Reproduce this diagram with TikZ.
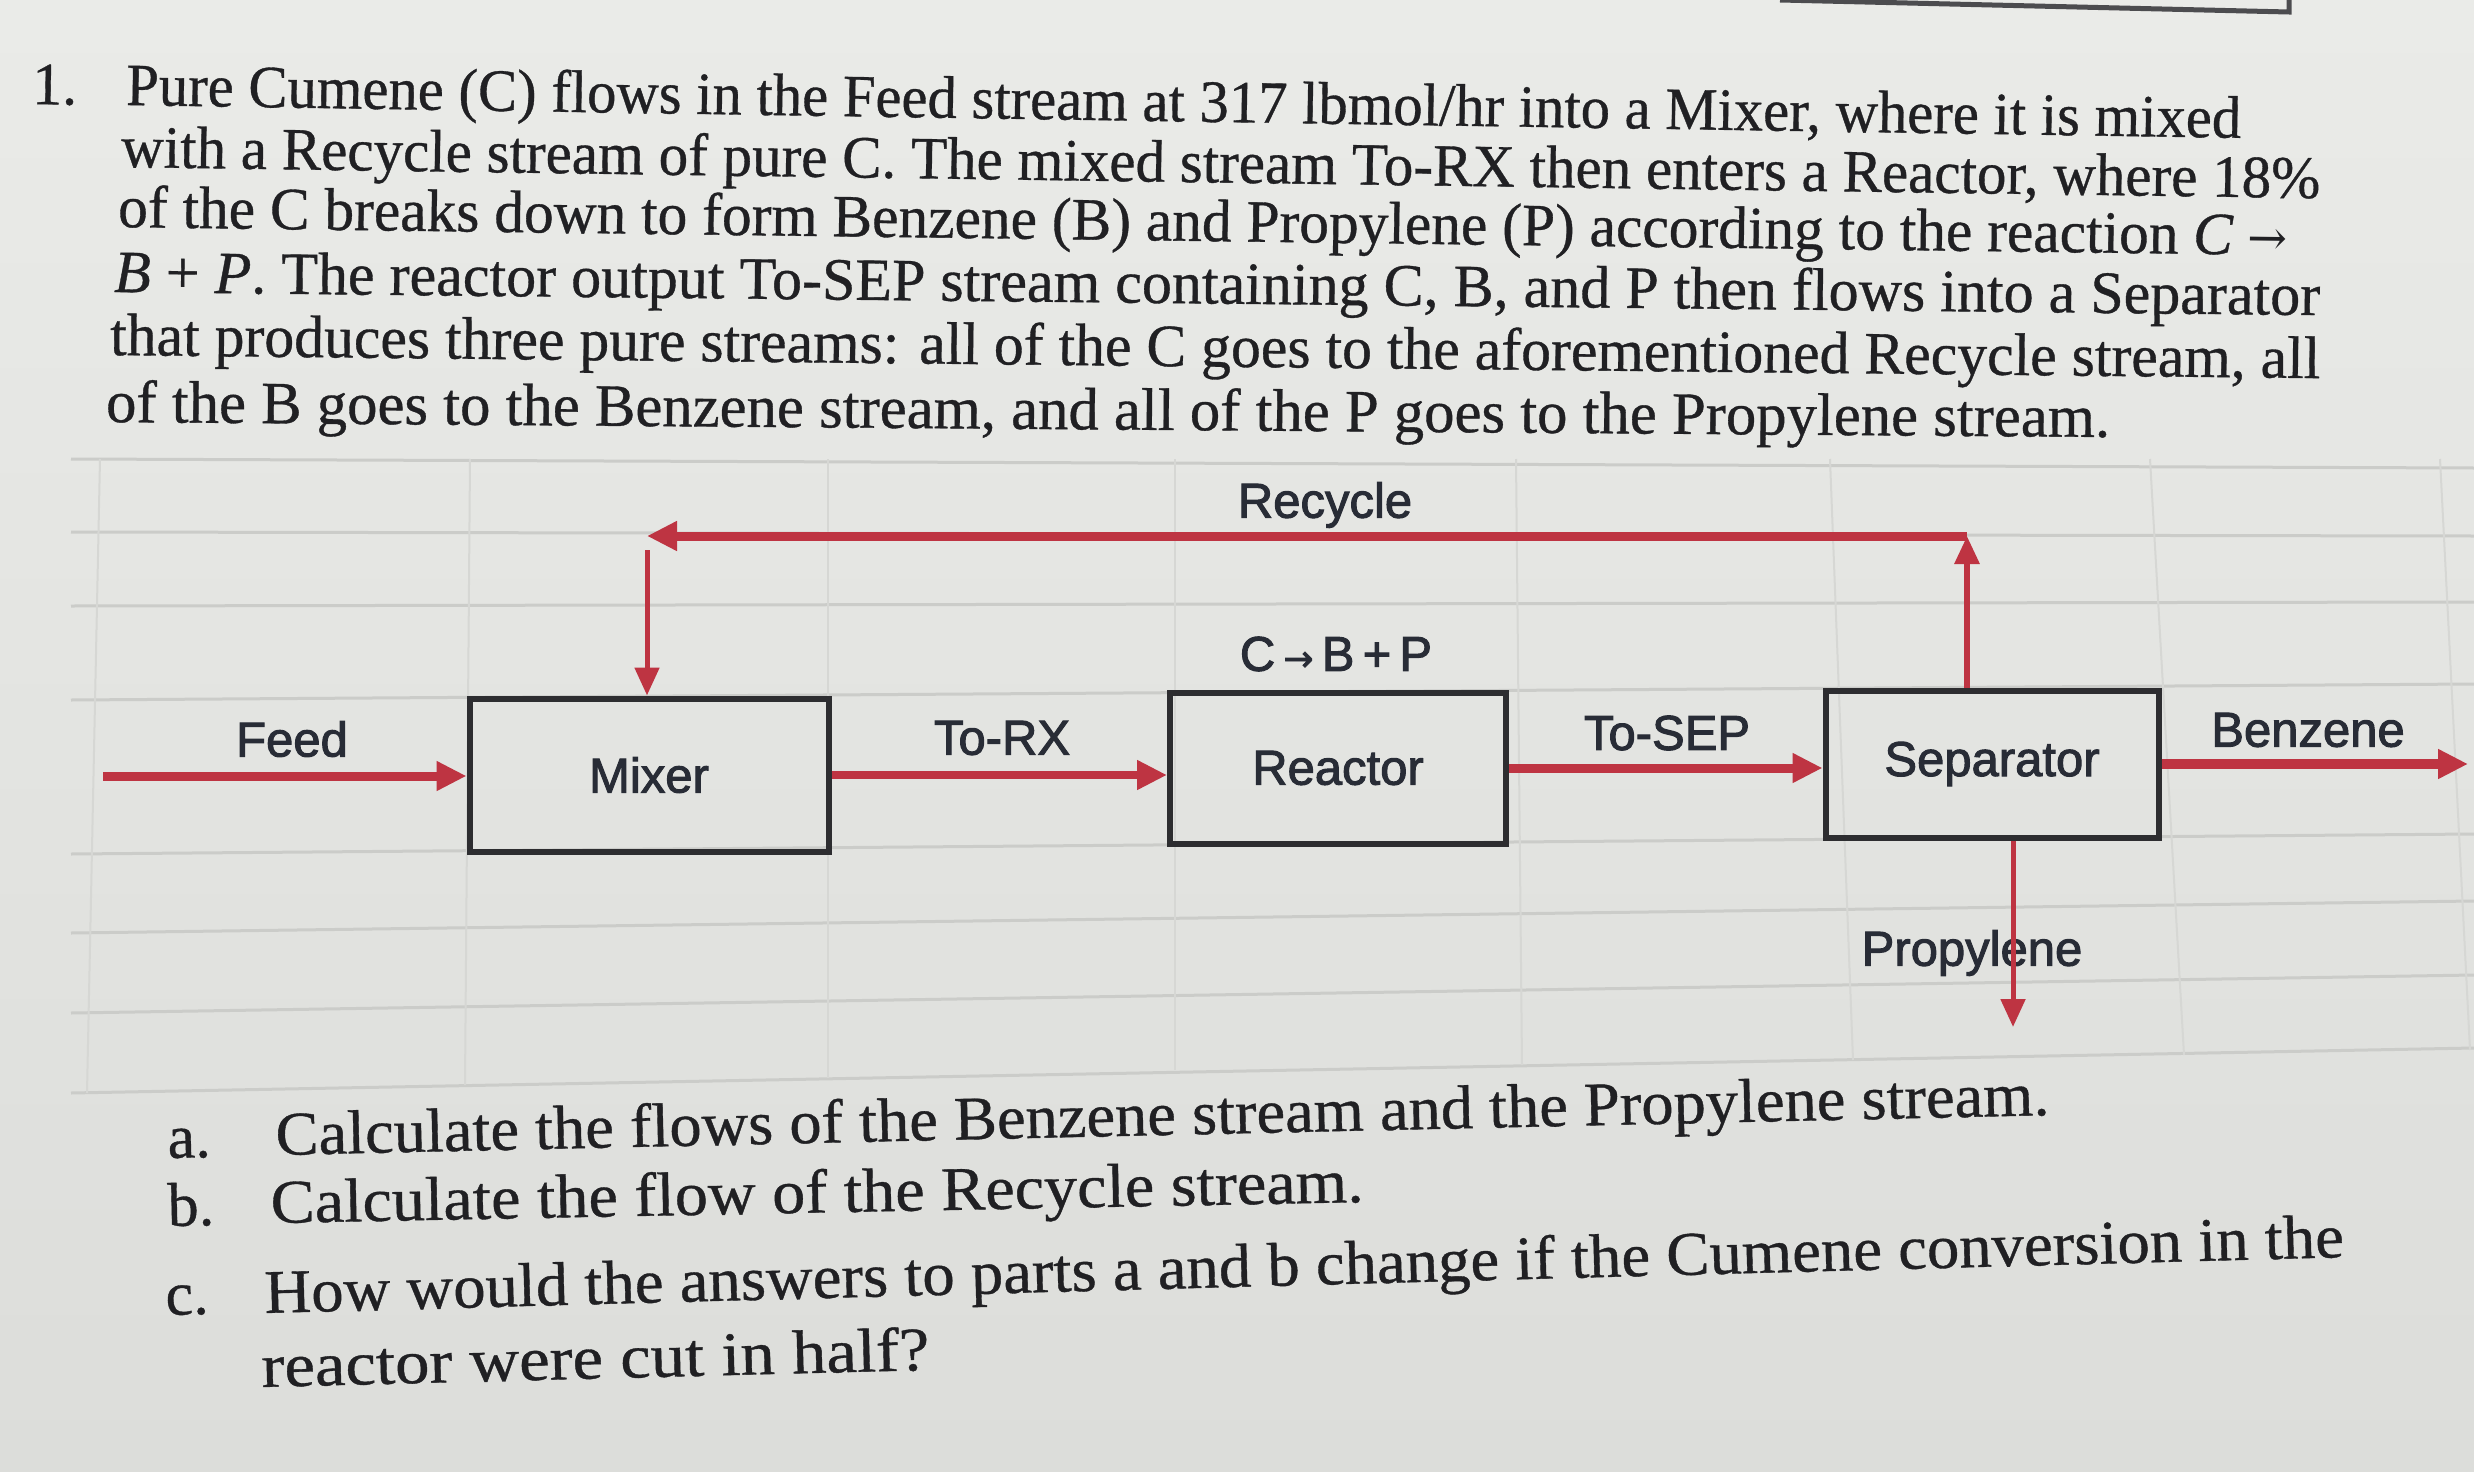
\documentclass[tikz,border=0pt]{standalone}
\usepackage{fontspec}
\setmainfont{Liberation Serif}[FakeBold=0.6]
\newfontfamily\diagfont{Liberation Sans}[FakeBold=2]
\newfontfamily\arrowserif{DejaVu Serif}
\newfontfamily\arrowsans{DejaVu Sans}[FakeBold=2]
\usetikzlibrary{arrows.meta}
\definecolor{papertop}{RGB}{234,235,232}
\definecolor{paperbot}{RGB}{220,221,218}
\definecolor{redc}{RGB}{190,52,66}
\definecolor{boxc}{RGB}{45,45,48}
\definecolor{inkc}{RGB}{32,32,35}
\definecolor{labc}{RGB}{40,44,54}
\definecolor{gridc}{RGB}{203,204,201}
\definecolor{gridv}{RGB}{214,215,212}
\newsavebox\lnbox
\newcommand\fitto[2]{\sbox\lnbox{#2}\resizebox{#1}{\ht\lnbox}{\usebox\lnbox}}
\tikzset{
  para/.style={anchor=base west, inner sep=0pt, outer sep=0pt, text=inkc, font=\fontsize{60}{66}\selectfont},
  qpara/.style={para, font=\fontsize{62}{68}\selectfont},
  lbl/.style={inner sep=0pt, text=labc, font=\diagfont\fontsize{49}{52}\selectfont},
  blk/.style={draw=boxc, line width=6pt, inner sep=0pt, text=labc, font=\diagfont\fontsize{49}{52}\selectfont},
  flow/.style={draw=redc, line width=9pt, -{Triangle[length=30pt,width=28pt]}},
  thinflow/.style={draw=redc, line width=5pt, -{Triangle[length=28pt,width=24pt]}},
  gridh/.style={draw=gridc, line width=3pt},
  gridvl/.style={draw=gridv, line width=2pt},
}
\begin{document}
\begin{tikzpicture}[x=1pt,y=-1pt]
\useasboundingbox (0,0) rectangle (2474,1472);
\shade[top color=papertop, bottom color=paperbot] (0,0) rectangle (2474,1472);

% partial box edge at the top
\draw[draw=boxc!85, line width=5pt] (1780,0) -- (2289,12) -- (2289,0);

% faint grid of the pasted diagram
\draw[gridh] (71,459) -- (2474,468);
\draw[gridh] (71,532) -- (2474,536);
\draw[gridh] (71,606) -- (2474,602);
\draw[gridh] (71,700) -- (2474,684);
\draw[gridh] (71,854) -- (2474,834);
\draw[gridh] (71,933) -- (2474,901);
\draw[gridh] (71,1013) -- (2474,975);
\draw[gridh] (71,1093) -- (2474,1048);
\draw[gridvl] (100,459) -- (87,1093);
\draw[gridvl] (470,459) -- (465,1085);
\draw[gridvl] (828,459) -- (828,1078);
\draw[gridvl] (1175,459) -- (1175,1070);
\draw[gridvl] (1516,459) -- (1522,1065);
\draw[gridvl] (1830,459) -- (1853,1060);
\draw[gridvl] (2150,459) -- (2184,1055);
\draw[gridvl] (2440,459) -- (2470,1050);

% problem statement
\node[para, rotate=-0.89] (n1) at (32,104) {1.};
\node[para, rotate=-0.89] (l1) at (126,105) {\fitto{2115pt}{Pure Cumene (C) flows in the Feed stream at 317 lbmol/hr into a Mixer, where it is mixed}};
\node[para, rotate=-0.81] (l2) at (121,167) {\fitto{2199pt}{with a Recycle stream of pure C. The mixed stream To-RX then enters a Reactor, where 18\%}};
\node[para, rotate=-0.74] (l3) at (118,227) {\fitto{2170pt}{of the C breaks down to form Benzene (B) and Propylene (P) according to the reaction \textit{C} {\arrowserif\fontsize{48}{50}\selectfont →}}};
\node[para, rotate=-0.60] (l4) at (114,292) {\fitto{2206pt}{\textit{B} + \textit{P}. The reactor output To-SEP stream containing C, B, and P then flows into a Separator}};
\node[para, rotate=-0.60] (l5) at (110,355) {\fitto{2210pt}{that produces three pure streams: all of the C goes to the aforementioned Recycle stream, all}};
\node[para, rotate=-0.43] (l6) at (106,422) {\fitto{2004pt}{of the B goes to the Benzene stream, and all of the P goes to the Propylene stream.}};

% flow diagram
\node[blk, minimum width=359pt, minimum height=153pt] (mixer) at (649,775) {Mixer};
\node[blk, minimum width=336pt, minimum height=151pt] (reactor) at (1338,768) {Reactor};
\node[blk, minimum width=333pt, minimum height=147pt] (sep) at (1992,764) {Separator};

\node[lbl] (recyclelbl) at (1325,505) {Recycle};
\node[lbl] (rxnlbl) at (1336,654) {C\,{\arrowsans\fontsize{36}{40}\selectfont →}\,B\,+\,P};
\node[lbl] (feedlbl) at (292,739) {Feed};
\node[lbl] (torxlbl) at (1002,738) {To-RX};
\node[lbl] (toseplbl) at (1667,733) {To-SEP};
\node[lbl] (benzlbl) at (2308,730) {Benzene};
\node[lbl] (proplbl) at (1972,953) {Propylene};

\coordinate (feedin) at (103,776);
\coordinate (benzout) at (2468,764);
\coordinate (rtop) at (1967,536);
\coordinate (ltop) at (647,536);
\coordinate (ldown) at (647,550);
\coordinate (pbot) at (2013,1027);

\draw[flow] (feedin) -- (feedin -| mixer.west);
\draw[flow, line width=8pt] (mixer.east) -- (mixer.east -| reactor.west);
\draw[flow] (reactor.east) -- (reactor.east -| sep.west);
\draw[flow, line width=10pt] (sep.east |- benzout) -- (benzout);
\draw[thinflow, line width=6pt] (rtop |- sep.north) -- (rtop);
\draw[flow] (rtop) -- (ltop);
\draw[thinflow] (ldown) -- (ldown |- mixer.north);
\draw[thinflow] (pbot |- sep.south) -- (pbot);

% questions
\node[qpara, rotate=1.29] (qa) at (168,1158) {a.};
\node[qpara, rotate=1.29] (la) at (276,1155) {\fitto{1774pt}{Calculate the flows of the Benzene stream and the Propylene stream.}};
\node[qpara, rotate=1.10] (qb) at (168,1226) {b.};
\node[qpara, rotate=1.10] (lb) at (271,1223) {\fitto{1093pt}{Calculate the flow of the Recycle stream.}};
\node[qpara, rotate=1.54] (qc) at (166,1315) {c.};
\node[qpara, rotate=1.54] (lc) at (265,1313) {\fitto{2080pt}{How would the answers to parts a and b change if the Cumene conversion in the}};
\node[qpara, rotate=1.46] (lc2) at (262,1387) {\fitto{668pt}{reactor were cut in half?}};
\end{tikzpicture}
\end{document}
